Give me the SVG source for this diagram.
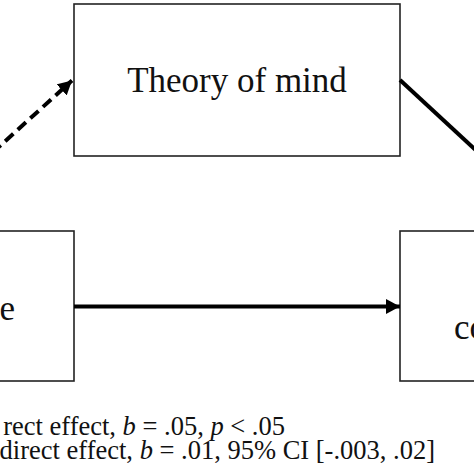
<svg xmlns="http://www.w3.org/2000/svg" width="474" height="474" viewBox="0 0 474 474">
<defs>
<style>
.box{fill:#fff;stroke:#222;stroke-width:1.6}
.lbl{font-family:"Liberation Serif","Times New Roman",serif;font-size:35px;fill:#111}
.note{font-family:"Liberation Serif","Times New Roman",serif;font-size:26.5px;fill:#111}
.conn{stroke:#000;stroke-width:4;fill:none}
</style>
<marker id="ah" viewBox="0 0 14 15" refX="14" refY="7.5" markerWidth="14" markerHeight="15" markerUnits="userSpaceOnUse" orient="auto">
<path d="M0,0 L14,7.5 L0,15 Z" fill="#000"/>
</marker>
</defs>
<rect width="474" height="474" fill="#fff"/>
<g id="node-tom">
<rect class="box" x="74" y="4" width="326" height="152"/>
<text class="lbl" x="237" y="92" text-anchor="middle">Theory of mind</text>
</g>
<g id="node-left">
<rect class="box" x="-10" y="231" width="84" height="150"/>
<text class="lbl" x="-0.5" y="320">e</text>
</g>
<g id="node-right">
<rect class="box" x="400" y="231" width="90" height="150"/>
<text class="lbl" x="454" y="339">co</text>
</g>
<g id="connectors">
<line class="conn" x1="-20" y1="164" x2="72" y2="80.5" stroke-dasharray="11,6" marker-end="url(#ah)"/>
<line class="conn" x1="400" y1="80" x2="482" y2="156"/>
<line class="conn" x1="74" y1="306.5" x2="400" y2="306.5" marker-end="url(#ah)"/>
</g>
<g id="notes">
<text class="note" x="285" y="435" text-anchor="end">rect effect, <tspan font-style="italic">b</tspan> = .05, <tspan font-style="italic">p</tspan> &lt; .05</text>
<text class="note" x="435" y="459" text-anchor="end">direct effect, <tspan font-style="italic">b</tspan> = .01, 95% CI [-.003, .02]</text>
</g>
</svg>
